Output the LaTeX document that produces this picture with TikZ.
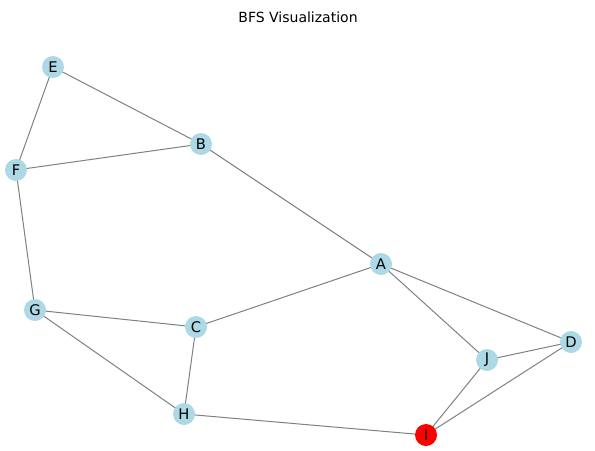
\documentclass[tikz,border=0pt]{standalone}
\usepackage{fontspec}
\setmainfont{DejaVu Sans}
\usetikzlibrary{backgrounds}
\definecolor{lblue}{HTML}{ADD8E6}
\definecolor{edgegray}{HTML}{808080}
\begin{document}
\begin{tikzpicture}[x=0.75pt,y=-0.75pt,
  vtx/.style={circle,fill=lblue,minimum size=16.5pt,inner sep=0pt,font=\fontsize{11}{13}\selectfont},
  hit/.style={vtx,fill=red},
  edge/.style={draw=edgegray,line width=0.75pt}]
\useasboundingbox (0,0) rectangle (595,450);
\node[font=\fontsize{10.5}{12}\selectfont] (title) at (298,17) {BFS Visualization};
\node[vtx] (E) at (53,67) {E};
\node[vtx] (B) at (201,144) {B};
\node[vtx] (F) at (16,170) {F};
\node[vtx] (A) at (381,264) {A};
\node[vtx] (G) at (35,310) {G};
\node[vtx] (C) at (196,327) {C};
\node[vtx] (D) at (571,342) {D};
\node[vtx] (J) at (487,360) {J};
\node[vtx] (H) at (184,414) {H};
\node[hit] (I) at (426,435) {I};
\begin{scope}[on background layer]
\foreach \u/\v in {E/B,E/F,F/B,B/A,F/G,G/C,G/H,C/A,C/H,A/J,A/D,J/D,J/I,D/I,H/I}
  \draw[edge] (\u.center) -- (\v.center);
\end{scope}
\end{tikzpicture}
\end{document}
